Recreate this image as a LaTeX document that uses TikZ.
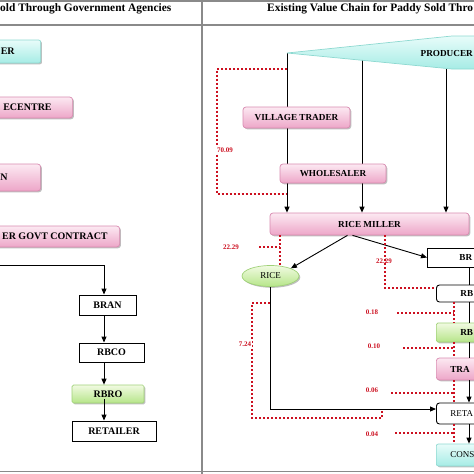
\documentclass[tikz,border=0pt]{standalone}
\usepackage{fontspec}
\setmainfont{Liberation Serif}
\usetikzlibrary{arrows.meta,shapes.geometric,shadows,backgrounds,calc}
\definecolor{pinkT}{HTML}{FCE9F2}
\definecolor{pinkB}{HTML}{EDA6C8}
\definecolor{pinkD}{HTML}{D88AB0}
\definecolor{cyanT}{HTML}{E8FCFA}
\definecolor{cyanB}{HTML}{A6ECE5}
\definecolor{cyanD}{HTML}{8ED9D1}
\definecolor{greenT}{HTML}{F1FAE2}
\definecolor{greenB}{HTML}{B6E589}
\definecolor{greenD}{HTML}{A0D178}
\definecolor{dotred}{HTML}{CC1020}
\definecolor{framegray}{HTML}{8A8A8A}
\begin{document}
\begin{tikzpicture}[x=1pt,y=-1pt,
  frame/.style={draw=framegray,line width=1.6pt},
  head/.style={inner sep=0pt,font=\bfseries\fontsize{11.4}{13}\selectfont},
  base/.style={rectangle,inner ysep=0pt},
  lfont/.style={font=\bfseries\fontsize{10}{12}\selectfont},
  rfont/.style={font=\bfseries\fontsize{9.2}{11}\selectfont},
  rreg/.style={font=\fontsize{9}{11}\selectfont},
  shad/.style={drop shadow={shadow xshift=1.3pt,shadow yshift=-1.3pt,fill=black,opacity=0.25}},
  pinkbox/.style={base,rounded corners=3pt,top color=pinkT,bottom color=pinkB,draw=pinkD,line width=0.7pt,shad},
  cyanbox/.style={base,rounded corners=2pt,top color=cyanT,bottom color=cyanB,draw=cyanD,line width=0.7pt,shad},
  greenbox/.style={base,rounded corners=1.5pt,top color=greenT,bottom color=greenB,draw=greenD,line width=0.7pt,shad},
  plainbox/.style={base,fill=white,draw=black,line width=0.9pt},
  roundbox/.style={plainbox,rounded corners=3pt},
  conn/.style={draw=black,line width=0.9pt},
  arr/.style={conn,-{Triangle[length=6pt,width=5pt]}},
  dot/.style={draw=dotred,line width=2pt,dash pattern=on 2pt off 2pt},
  redlbl/.style={inner sep=1pt,text=dotred,font=\bfseries\fontsize{7}{8}\selectfont},
  redlblw/.style={redlbl,fill=white}
]
\useasboundingbox (0,0) rectangle (474,474);
\clip (0,0) rectangle (474,474);

% frame lines
\draw[frame] (0,1) -- (474,1);
\draw[frame] (0,25) -- (474,25);
\draw[frame] (0,471.5) -- (474,471.5);
\draw[frame,line width=2pt] (202,0) -- (202,474);

% headers
\node[head,anchor=west] (hl) at (0,9) {old Through Government Agencies};
\node[head,anchor=west] (hr) at (267,9) {Existing Value Chain for Paddy Sold Thro};

% ---------- left panel ----------
\node[cyanbox,lfont,anchor=east,minimum height=23pt,inner xsep=26pt] (l1) at (41,51.5) {ER};
\node[pinkbox,lfont,anchor=east,minimum height=21pt,inner xsep=21pt] (l2) at (73,107.5) {ECENTRE};
\node[pinkbox,lfont,anchor=east,minimum height=27pt,inner xsep=33pt] (l3) at (41,177.5) {N};
\node[pinkbox,lfont,anchor=east,minimum height=21pt,inner xsep=12pt] (l4) at (120,236.5) {ER GOVT CONTRACT};

\node[plainbox,lfont,minimum width=57pt,minimum height=20pt] (bran) at (107.5,305) {BRAN};
\node[plainbox,lfont,minimum width=65pt,minimum height=19pt] (rbco) at (111.5,352.5) {RBCO};
\node[greenbox,lfont,minimum width=72pt,minimum height=18pt] (rbro) at (108,394) {RBRO};
\node[plainbox,lfont,minimum width=84pt,minimum height=20pt] (ret) at (114,431) {RETAILER};

\coordinate (colL) at (104,0);
\coordinate (gl) at (0,265);
\draw[arr] (gl) -- (gl -| colL) -- (bran.north -| colL);
\draw[arr] (bran.south -| colL) -- (rbco.north -| colL);
\draw[arr] (rbco.south -| colL) -- (rbro.north -| colL);
\draw[arr] ([yshift=-5pt]rbro.center -| colL) -- (ret.north -| colL);

% ---------- right panel ----------
\path[top color=cyanT,bottom color=cyanB,draw=cyanD,line width=0.7pt]
  (287,53) -- (452,36) -- (490,36) -- (490,69) -- (452,69) -- cycle;
\node[rfont,anchor=east,inner sep=0pt] (prod) at (473,53) {PRODUCER};
\coordinate (p1) at (287,53);
\coordinate (p2) at (362,60.3);
\coordinate (p3) at (446,68.4);

\node[pinkbox,rfont,minimum width=107pt,minimum height=21pt] (vt) at (296.5,117.5) {VILLAGE TRADER};
\node[pinkbox,rfont,minimum width=106pt,minimum height=19pt] (ws) at (333,173.5) {WHOLESALER};
\node[pinkbox,rfont,minimum width=199pt,minimum height=22pt] (rm) at (369.5,224) {RICE MILLER};
\node[ellipse,inner sep=0pt,minimum width=57pt,minimum height=21pt,top color=greenT,bottom color=greenB,draw=greenD,line width=0.7pt,shad,rreg] (rice) at (270.5,276) {RICE};

\node[plainbox,rfont,anchor=west,minimum height=19pt,inner xsep=32pt] (br) at (427,257.5) {BR};
\node[roundbox,rfont,anchor=west,minimum height=17pt,inner xsep=24pt] (rb1) at (436,293.5) {RB};
\node[greenbox,rfont,anchor=west,minimum height=19pt,inner xsep=24pt] (rb2) at (436,332.5) {RB};
\node[pinkbox,rfont,anchor=west,minimum height=22pt,inner xsep=14pt] (tra) at (436,369) {TRA};
\node[roundbox,rreg,anchor=west,minimum height=21pt,inner xsep=14pt] (reta) at (436,413.5) {RETA};
\node[cyanbox,rreg,anchor=west,minimum height=22pt,inner xsep=14pt] (cons) at (436,455) {CONS};

\begin{pgfonlayer}{background}
\draw[arr] (p1) -- (p1 |- rm.north);
\draw[arr] (p2) -- (p2 |- rm.north);
\draw[arr] (p3) -- (p3 |- rm.north);
\end{pgfonlayer}

\draw[arr] ([xshift=-22pt]rm.south) -- (rice.north east);
\draw[arr] ([xshift=-17pt]rm.south) -- (br.west);

\coordinate (colR) at (469,0);
\draw[conn] (br.south -| colR) -- (rb1.north -| colR);
\draw[conn] (rb1.south -| colR) -- (rb2.north -| colR);
\draw[conn] (rb2.south -| colR) -- (tra.north -| colR);
\draw[arr] (tra.south -| colR) -- (reta.north -| colR);
\draw[arr] (reta.south -| colR) -- (cons.north -| colR);

\coordinate (rl) at ([yshift=4.5pt]reta.west);
\draw[arr] (rice.south) -- (rice.south |- rl) -- (rl);

% ---------- dotted value lines ----------
\coordinate (a1) at (287,68.5);
\coordinate (a2) at (217,68.5);
\coordinate (a3) at (217,194);
\coordinate (a4) at (287,194);
\draw[dot] (a1) -- (a2) -- (a3) -- (a4);
\node[redlblw] (v1) at (225,150) {70.09};

\coordinate (bx) at (280,247);
\coordinate (bl) at (259,247);
\draw[dot] (rm.south -| bx) -- (rice.north -| bx);
\draw[dot] (bl) -- (bx);
\node[redlbl] (v2) at (231,247) {22.29};

\coordinate (c2) at (385,288);
\draw[dot] (rm.south -| c2) -- (c2) -- (c2 -| rb1.west);
\node[redlbl] (v3) at (384,261) {22.29};

\coordinate (dotx) at (454,0);
\coordinate (d1) at (397,313);
\draw[dot] (rb1.south -| dotx) -- (rb2.north -| dotx);
\draw[dot] (d1) -- (d1 -| dotx);
\node[redlbl] (v4) at (372,312) {0.18};

\coordinate (d2) at (403,348);
\draw[dot] (rb2.south -| dotx) -- (tra.north -| dotx);
\draw[dot] (d2) -- (d2 -| dotx);
\node[redlbl] (v5) at (374,346) {0.10};

\coordinate (d3) at (391,393);
\draw[dot] (tra.south -| dotx) -- (reta.north -| dotx);
\draw[dot] (d3) -- (d3 -| dotx);
\node[redlbl] (v6) at (372,390) {0.06};

\coordinate (d4) at (395,433);
\draw[dot] (reta.south -| dotx) -- (cons.north -| dotx);
\draw[dot] (d4) -- (d4 -| dotx);
\node[redlbl] (v7) at (372,434) {0.04};

\coordinate (e1) at (270,303);
\coordinate (e2) at (252,303);
\coordinate (e3) at (252,418);
\coordinate (e4) at (382,418);
\coordinate (e5) at (382,409.5);
\draw[dot] (e1) -- (e2) -- (e3) -- (e4) -- (e5);
\node[redlblw] (v8) at (245,344) {7.24};
\end{tikzpicture}
\end{document}
